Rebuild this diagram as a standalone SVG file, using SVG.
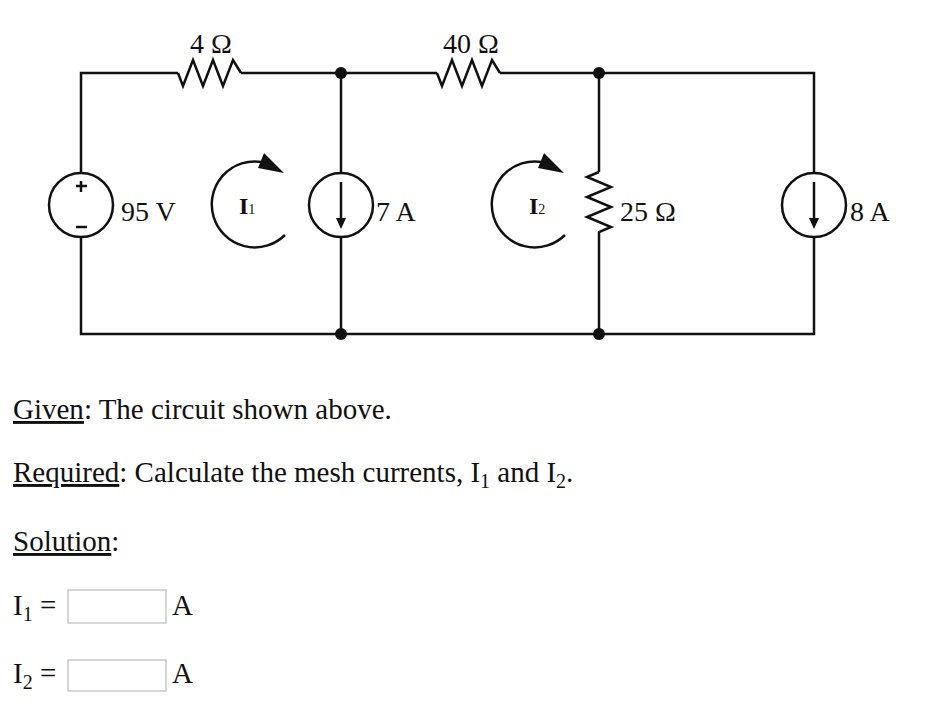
<svg xmlns="http://www.w3.org/2000/svg" width="948" height="720" viewBox="0 0 948 720">
<style>
.w{fill:none;stroke:#111;stroke-width:2.5}
text{font-family:"Liberation Serif","Times New Roman",serif;fill:#111}
.c{font-size:28px}
.d{fill:#111}
.box{fill:#fff;stroke:#bbb;stroke-width:1.2}
</style>
<rect width="948" height="720" fill="#fff"/>
<g id="connectors">
<path class="w" d="M81 173V73H178M241 73H437M500 73H814V173M81 237V334H814V237M341 73V173M341 237V334M599 73V172M599 238V334"/>
</g>
<g id="R4"><path class="w" d="M178 73l5 13 10-26 10 26 10-26 10 26 10-26 8 13"/><text class="c" x="211" y="53" text-anchor="middle">4 Ω</text></g>
<g id="R40"><path class="w" d="M437 73l5 13 10-26 10 26 10-26 10 26 10-26 8 13"/><text class="c" x="471" y="53" text-anchor="middle">40 Ω</text></g>
<g id="R25"><path class="w" d="M599 172l-12 5 24 10-24 10 24 10-24 10 24 10-12 5v6"/><text class="c" x="620" y="221">25 Ω</text></g>
<g id="V95"><circle class="w" cx="81" cy="205" r="32"/><path class="w" d="M76 186h11M81 181v11M76 227h11"/><text class="c" x="121" y="221">95 V</text></g>
<g id="I7"><circle class="w" cx="341" cy="205" r="32"/><path class="w" d="M341 182v41"/><path class="d" d="M336 218h10l-5 11z"/><text class="c" x="376" y="221">7 A</text></g>
<g id="I8"><circle class="w" cx="814" cy="205" r="32"/><path class="w" d="M814 182v41"/><path class="d" d="M809 218h10l-5 11z"/><text class="c" x="850" y="221">8 A</text></g>
<g id="loop1"><path class="w" d="M285 235A43 43 0 1 1 262 162"/><path class="d" d="M264 153l20 20-26-5z"/><text x="239" y="214" font-size="24" font-weight="bold">I<tspan font-size="14" font-weight="normal">1</tspan></text></g>
<g id="loop2"><path class="w" d="M565 235A43 43 0 1 1 542 162"/><path class="d" d="M544 153l20 20-26-5z"/><text x="529" y="214" font-size="24" font-weight="bold">I<tspan font-size="14" font-weight="normal">2</tspan></text></g>
<g id="dots"><circle class="d" cx="341" cy="73" r="6"/><circle class="d" cx="599" cy="73" r="6"/><circle class="d" cx="341" cy="334" r="6"/><circle class="d" cx="599" cy="334" r="6"/></g>
<g id="text" font-size="29">
<text x="13" y="419"><tspan text-decoration="underline">Given</tspan>: The circuit shown above.</text>
<text x="13" y="482"><tspan text-decoration="underline">Required</tspan>: Calculate the mesh currents, I<tspan font-size="20" dy="6">1</tspan><tspan dy="-6"> and I</tspan><tspan font-size="20" dy="6">2</tspan><tspan dy="-6">.</tspan></text>
<text x="13" y="551"><tspan text-decoration="underline">Solution</tspan>:</text>
<text x="13" y="615">I<tspan font-size="20" dy="6">1</tspan><tspan dy="-6"> =</tspan></text>
<rect class="box" x="68" y="590" width="98" height="33"/>
<text x="172" y="615">A</text>
<text x="13" y="683">I<tspan font-size="20" dy="6">2</tspan><tspan dy="-6"> =</tspan></text>
<rect class="box" x="68" y="660" width="98" height="31"/>
<text x="172" y="683">A</text>
</g>
</svg>
